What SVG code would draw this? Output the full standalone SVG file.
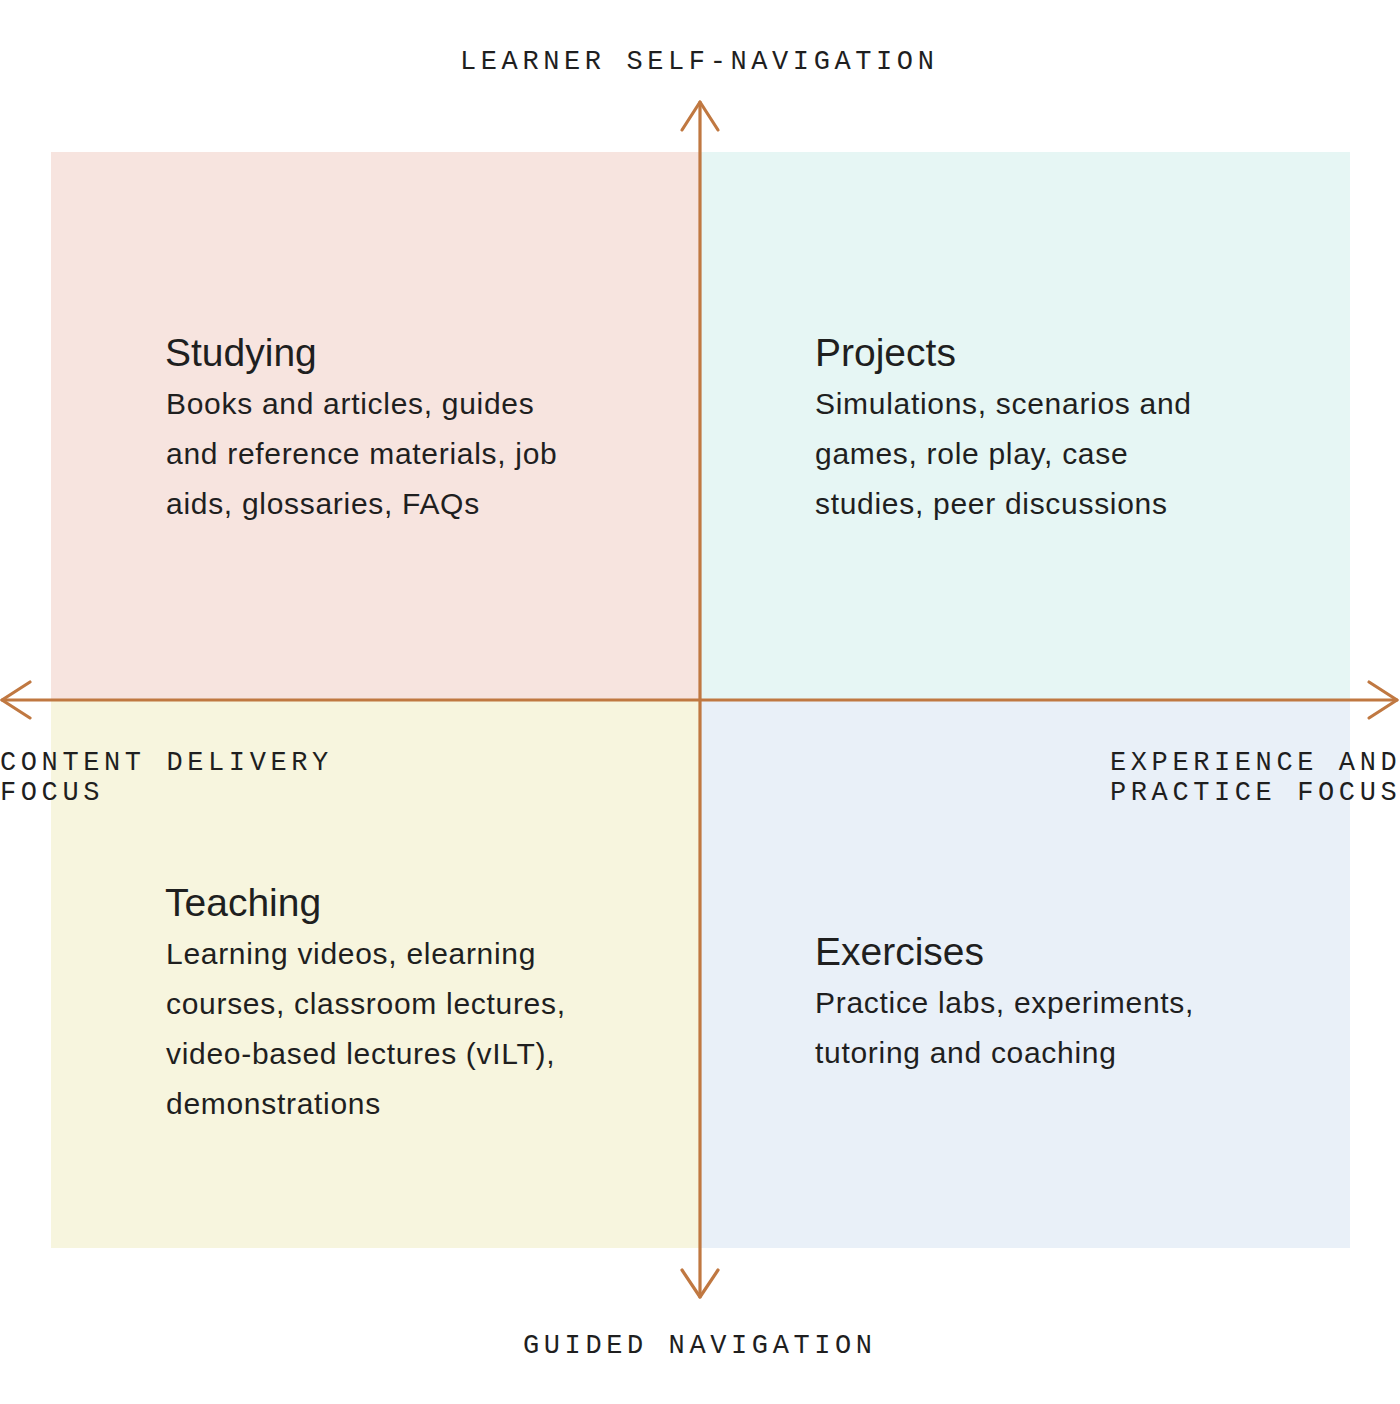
<svg xmlns="http://www.w3.org/2000/svg" width="1400" height="1404" viewBox="0 0 1400 1404">
<style>
.axis{font-family:"Liberation Mono","DejaVu Sans Mono",monospace;font-size:27px;letter-spacing:4.6px;fill:#1f1f1f}
.title{font-family:"Liberation Sans",Arial,sans-serif;font-size:39px;fill:#1f1f1f}
.body{font-family:"Liberation Sans",Arial,sans-serif;font-size:30px;letter-spacing:0.7px;fill:#1f1f1f}
.ax{stroke:#C07841;stroke-width:3.2;fill:none;stroke-linecap:round;stroke-linejoin:round}
</style>
<rect width="1400" height="1404" fill="#ffffff"/>
<g id="studying">
<rect x="51" y="152" width="649" height="548" fill="#F7E4DF"/>
<text class="title" x="165" y="366">Studying</text>
<text class="body" x="166" y="414">Books and articles, guides</text>
<text class="body" x="166" y="464">and reference materials, job</text>
<text class="body" x="166" y="514">aids, glossaries, FAQs</text>
</g>
<g id="projects">
<rect x="700" y="152" width="650" height="548" fill="#E6F6F4"/>
<text class="title" x="815" y="366">Projects</text>
<text class="body" x="815" y="414">Simulations, scenarios and</text>
<text class="body" x="815" y="464">games, role play, case</text>
<text class="body" x="815" y="514">studies, peer discussions</text>
</g>
<g id="teaching">
<rect x="51" y="700" width="649" height="548" fill="#F7F5DE"/>
<text class="title" x="165" y="916">Teaching</text>
<text class="body" x="166" y="964">Learning videos, elearning</text>
<text class="body" x="166" y="1014">courses, classroom lectures,</text>
<text class="body" x="166" y="1064">video-based lectures (vILT),</text>
<text class="body" x="166" y="1114">demonstrations</text>
</g>
<g id="exercises">
<rect x="700" y="700" width="650" height="548" fill="#E9F0F8"/>
<text class="title" x="815" y="965">Exercises</text>
<text class="body" x="815" y="1013">Practice labs, experiments,</text>
<text class="body" x="815" y="1063">tutoring and coaching</text>
</g>
<g id="connectors">
<line class="ax" x1="700" y1="102" x2="700" y2="1297"/>
<line class="ax" x1="2" y1="700" x2="1397" y2="700"/>
<polyline class="ax" points="682,130 700,102 718,130"/>
<polyline class="ax" points="682,1270 700,1297 718,1270"/>
<polyline class="ax" points="30,682 2,700 30,718"/>
<polyline class="ax" points="1369,682 1397,700 1369,718"/>
</g>
<g id="labels">
<text class="axis" x="460" y="69">LEARNER SELF-NAVIGATION</text>
<text class="axis" x="523" y="1353">GUIDED NAVIGATION</text>
<text class="axis" x="0" y="770">CONTENT DELIVERY</text>
<text class="axis" x="0" y="800">FOCUS</text>
<text class="axis" x="1110" y="770">EXPERIENCE AND</text>
<text class="axis" x="1110" y="800">PRACTICE FOCUS</text>
</g>
</svg>
